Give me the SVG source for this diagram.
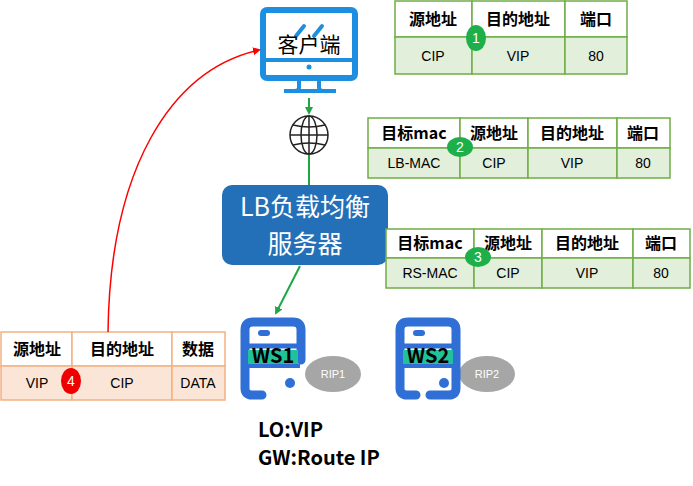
<svg xmlns="http://www.w3.org/2000/svg" width="693" height="486" viewBox="0 0 693 486">
<defs>
<marker id="ag" markerWidth="8" markerHeight="8" refX="6" refY="4" orient="auto" markerUnits="userSpaceOnUse"><path d="M0,0 L8,4 L0,8z" fill="#1DA843"/></marker>
<marker id="ar" markerWidth="8" markerHeight="8" refX="6" refY="4" orient="auto" markerUnits="userSpaceOnUse"><path d="M0,0 L8,4 L0,8z" fill="#F00"/></marker>
</defs>
<style>
text{font-family:"Noto Sans CJK SC","Liberation Sans",sans-serif}
.h{font-size:16px;font-weight:bold;fill:#000;text-anchor:middle}
.c{font-size:14px;fill:#000;text-anchor:middle;font-family:"Liberation Sans","Noto Sans CJK SC",sans-serif}
.g rect{stroke:#70AD47;stroke-width:1.5}
.o rect{stroke:#F4B183;stroke-width:1.5}
.srv{fill:none;stroke:#2F6FD6;stroke-width:9;stroke-linecap:round;stroke-linejoin:round}
.b{font-size:11px;fill:#fff;text-anchor:middle;font-family:"Liberation Sans",sans-serif}
</style>
<g id="client">
<rect x="263" y="10" width="92" height="68" rx="4" fill="#fff" stroke="#1E8FE0" stroke-width="6"/>
<line x1="263" y1="60" x2="355" y2="60" stroke="#1E8FE0" stroke-width="4"/>
<circle cx="309" cy="67" r="2.5" fill="#1E8FE0"/>
<path d="M299,80 L299,88 Q299,91 294,91 L284,91 M319,80 L319,88 Q319,91 324,91 L336,91 M284,91 L336,91" fill="none" stroke="#1E8FE0" stroke-width="4"/>
<path d="M296,36 L304,26 M314,36 L322,26" stroke="#1E8FE0" stroke-width="4" stroke-linecap="round"/>
<text x="309" y="52" font-size="21" text-anchor="middle" font-family="Noto Sans CJK SC,serif">客户端</text>
</g>
<g id="globe" fill="none" stroke="#222" stroke-width="1.5">
<circle cx="309" cy="135" r="19"/>
<ellipse cx="309" cy="135" rx="8" ry="19"/>
<line x1="309" y1="116" x2="309" y2="154"/>
<line x1="290" y1="135" x2="328" y2="135"/>
<path d="M293,125 Q309,129 325,125 M293,145 Q309,141 325,145"/>
</g>
<g id="lb">
<rect x="222" y="185" width="166" height="80" rx="10" fill="#2370B8"/>
<text x="305" y="216" font-size="25" fill="#fff" text-anchor="middle">LB负载均衡</text>
<text x="305" y="253" font-size="25" fill="#fff" text-anchor="middle">服务器</text>
</g>
<g id="ws1">
<ellipse cx="333" cy="374" rx="28" ry="18" fill="#A6A6A6"/>
<path class="srv" d="M262,395 L252,395 Q245,395 245,388 L245,330 Q245,322 253,322 L293,322 Q301,322 301,330 L301,360"/>
<line x1="245" y1="346" x2="301" y2="346" stroke="#2F6FD6" stroke-width="5"/>
<rect x="258" y="330" width="12" height="6" rx="3" fill="#2F6FD6"/>
<rect x="248" y="350" width="50" height="14" fill="#20C29A"/>
<line x1="248" y1="366" x2="300" y2="366" stroke="#2F6FD6" stroke-width="4"/>
<text x="333" y="378" class="b">RIP1</text>
<circle cx="290" cy="383" r="5" fill="#2F6FD6"/>
<text x="273" y="363" font-size="20" font-weight="bold" text-anchor="middle" font-family="Liberation Sans,sans-serif">WS1</text>
</g>
<g id="ws2">
<ellipse cx="487" cy="374" rx="28" ry="18" fill="#A6A6A6"/>
<path class="srv" d="M416,395 L407,395 Q400,395 400,388 L400,330 Q400,322 408,322 L448,322 Q456,322 456,330 L456,388 Q456,395 449,395 L430,395"/>
<line x1="400" y1="346" x2="456" y2="346" stroke="#2F6FD6" stroke-width="5"/>
<rect x="413" y="330" width="12" height="6" rx="3" fill="#2F6FD6"/>
<rect x="403" y="350" width="50" height="14" fill="#20C29A"/>
<line x1="403" y1="366" x2="455" y2="366" stroke="#2F6FD6" stroke-width="4"/>
<circle cx="444" cy="383" r="5" fill="#2F6FD6"/>
<text x="487" y="378" class="b">RIP2</text>
<text x="428" y="363" font-size="20" font-weight="bold" text-anchor="middle" font-family="Liberation Sans,sans-serif">WS2</text>
</g>
<g id="t1" class="g">
<rect x="395" y="1" width="77" height="36" fill="#fff"/><rect x="472" y="1" width="93" height="36" fill="#fff"/><rect x="565" y="1" width="62" height="36" fill="#fff"/>
<rect x="395" y="37" width="77" height="37" fill="#E2EFDA"/><rect x="472" y="37" width="93" height="37" fill="#E2EFDA"/><rect x="565" y="37" width="62" height="37" fill="#E2EFDA"/>
<text x="433" y="25" class="h">源地址</text><text x="518" y="25" class="h">目的地址</text><text x="596" y="25" class="h">端口</text>
<text x="433" y="61" class="c">CIP</text><text x="518" y="61" class="c">VIP</text><text x="596" y="61" class="c">80</text>
<ellipse cx="476" cy="38" rx="10" ry="13" fill="#1DB04A"/><text x="476" y="43" class="c" style="fill:#fff">1</text>
</g>
<g id="t2" class="g">
<rect x="368" y="118" width="92" height="30" fill="#fff"/><rect x="460" y="118" width="68" height="30" fill="#fff"/><rect x="528" y="118" width="89" height="30" fill="#fff"/><rect x="617" y="118" width="53" height="30" fill="#fff"/>
<rect x="368" y="148" width="92" height="30" fill="#E2EFDA"/><rect x="460" y="148" width="68" height="30" fill="#E2EFDA"/><rect x="528" y="148" width="89" height="30" fill="#E2EFDA"/><rect x="617" y="148" width="53" height="30" fill="#E2EFDA"/>
<text x="414" y="139" class="h">目标mac</text><text x="494" y="139" class="h">源地址</text><text x="572" y="139" class="h">目的地址</text><text x="643" y="139" class="h">端口</text>
<text x="414" y="168" class="c">LB-MAC</text><text x="494" y="168" class="c">CIP</text><text x="572" y="168" class="c">VIP</text><text x="643" y="168" class="c">80</text>
<ellipse cx="460" cy="147" rx="13" ry="10" fill="#1DB04A"/><text x="460" y="152" class="c" style="fill:#fff">2</text>
</g>
<g id="t3" class="g">
<rect x="386" y="229" width="88" height="29" fill="#fff"/><rect x="474" y="229" width="68" height="29" fill="#fff"/><rect x="542" y="229" width="91" height="29" fill="#fff"/><rect x="633" y="229" width="57" height="29" fill="#fff"/>
<rect x="386" y="258" width="88" height="30" fill="#E2EFDA"/><rect x="474" y="258" width="68" height="30" fill="#E2EFDA"/><rect x="542" y="258" width="91" height="30" fill="#E2EFDA"/><rect x="633" y="258" width="57" height="30" fill="#E2EFDA"/>
<text x="430" y="249" class="h">目标mac</text><text x="508" y="249" class="h">源地址</text><text x="587" y="249" class="h">目的地址</text><text x="661" y="249" class="h">端口</text>
<text x="430" y="278" class="c">RS-MAC</text><text x="508" y="278" class="c">CIP</text><text x="587" y="278" class="c">VIP</text><text x="661" y="278" class="c">80</text>
<ellipse cx="478" cy="257" rx="13" ry="10" fill="#1DB04A"/><text x="478" y="262" class="c" style="fill:#fff">3</text>
</g>
<g id="t4" class="o">
<rect x="1" y="332" width="71" height="34" fill="#fff"/><rect x="72" y="332" width="100" height="34" fill="#fff"/><rect x="172" y="332" width="53" height="34" fill="#fff"/>
<rect x="1" y="366" width="71" height="34" fill="#FBE5D6"/><rect x="72" y="366" width="100" height="34" fill="#FBE5D6"/><rect x="172" y="366" width="53" height="34" fill="#FBE5D6"/>
<text x="37" y="355" class="h">源地址</text><text x="122" y="355" class="h">目的地址</text><text x="198" y="355" class="h">数据</text>
<text x="37" y="388" class="c">VIP</text><text x="122" y="388" class="c">CIP</text><text x="198" y="388" class="c">DATA</text>
<ellipse cx="71" cy="381" rx="10" ry="13" fill="#E00"/><text x="71" y="386" class="c" style="fill:#fff">4</text>
</g>
<g id="connectors" fill="none">
<line x1="309" y1="98" x2="309" y2="113" stroke="#1DA843" stroke-width="2" marker-end="url(#ag)"/>
<line x1="309" y1="155" x2="309" y2="185" stroke="#1DA843" stroke-width="2"/>
<line x1="300" y1="266" x2="276" y2="313" stroke="#1DA843" stroke-width="2" marker-end="url(#ag)"/>
<path d="M108,332 C110,170 170,70 259,50" stroke="#F00" stroke-width="1.5" marker-end="url(#ar)"/>
</g>
<text x="258" y="437" font-size="20" font-weight="bold" font-family="Liberation Sans,sans-serif">LO:VIP</text>
<text x="258" y="465" font-size="20" font-weight="bold" font-family="Liberation Sans,sans-serif">GW:Route IP</text>
</svg>
